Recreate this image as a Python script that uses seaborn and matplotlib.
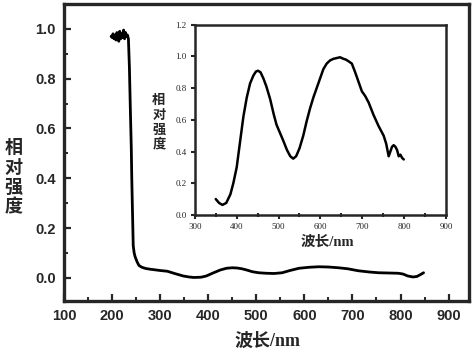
import matplotlib.pyplot as plt
import seaborn as sns
import pandas as pd
from matplotlib.ticker import MultipleLocator

sns.set_style("ticks")
plt.rcParams['font.family'] = ['Liberation Sans', 'Noto Sans CJK SC', 'DejaVu Sans']

# main spectrum
wl = [198, 200, 202, 204, 206, 208, 210, 212, 214, 216, 218, 220, 222, 224, 226, 228, 230, 232, 234,
      236, 238, 240, 241, 243, 244, 246, 248, 252, 256, 262, 270, 280, 300, 315, 330, 348, 360, 370,
      385, 396, 410, 425, 438, 450, 460, 470, 480, 492, 505, 520, 537, 554, 570, 589, 610, 630, 650,
      671, 690, 712, 735, 754, 775, 795, 805, 815, 826, 834, 840, 848]
inten = [0.97, 0.965, 0.98, 0.96, 0.975, 0.955, 0.985, 0.97, 0.95, 0.99, 0.96, 0.98, 0.965, 0.995, 0.96,
         0.985, 0.97, 0.975, 0.96, 0.85, 0.68, 0.52, 0.40, 0.22, 0.13, 0.10, 0.085, 0.065, 0.05, 0.043,
         0.038, 0.035, 0.03, 0.027, 0.018, 0.008, 0.004, 0.002, 0.003, 0.008, 0.02, 0.032, 0.039, 0.041,
         0.04, 0.037, 0.032, 0.025, 0.021, 0.019, 0.018, 0.021, 0.03, 0.039, 0.043, 0.045, 0.044, 0.041,
         0.037, 0.029, 0.024, 0.021, 0.02, 0.019, 0.016, 0.008, 0.004, 0.006, 0.012, 0.021]

# inset spectrum
wl_in = [350, 358, 366, 375, 385, 392, 400, 408, 416, 424, 432, 440, 446, 451, 457, 464, 471, 480,
         488, 495, 503, 511, 520, 528, 535, 542, 550, 559, 567, 575, 583, 591, 599, 607, 615, 623,
         631, 639, 647, 655, 661, 667, 675, 683, 691, 699, 707, 715, 727, 739, 751, 757, 763, 767,
         771, 775, 779, 783, 787, 791, 795, 799]
int_in = [0.10, 0.075, 0.063, 0.075, 0.13, 0.2, 0.3, 0.46, 0.62, 0.74, 0.83, 0.88, 0.905, 0.91, 0.9,
          0.86, 0.81, 0.73, 0.64, 0.57, 0.52, 0.47, 0.41, 0.37, 0.355, 0.37, 0.42, 0.5, 0.59, 0.67,
          0.74, 0.8, 0.86, 0.92, 0.955, 0.975, 0.985, 0.99, 0.995, 0.985, 0.98, 0.97, 0.955, 0.9, 0.84,
          0.78, 0.75, 0.71, 0.63, 0.56, 0.5, 0.45, 0.37, 0.4, 0.43, 0.44, 0.43, 0.41, 0.37, 0.38, 0.36, 0.35]

df = pd.DataFrame({'wl': wl, 'I': inten})
df_in = pd.DataFrame({'wl': wl_in, 'I': int_in})

cjk_bold = dict(family=['Noto Sans CJK SC'], fontweight='bold')

fig = plt.figure(figsize=(4.74, 3.54), dpi=100)
ax = fig.add_axes([0.135, 0.150, 0.854, 0.839])
sns.lineplot(data=df, x='wl', y='I', color='black', lw=2, ax=ax, estimator=None)
ax.set_xlim(100, 942)
ax.set_ylim(-0.092, 1.1)
ax.xaxis.set_major_locator(MultipleLocator(100))
ax.xaxis.set_minor_locator(MultipleLocator(50))
ax.yaxis.set_major_locator(MultipleLocator(0.2))
ax.yaxis.set_minor_locator(MultipleLocator(0.1))
ax.tick_params(which='major', direction='in', length=5, width=1.6, labelsize=10.5, pad=6)
ax.tick_params(which='minor', direction='in', length=3, width=1.4)
for lab in ax.get_xticklabels() + ax.get_yticklabels():
    lab.set_fontweight('bold')
ax.set_yticklabels([f"{v:.1f}" for v in ax.get_yticks()], fontweight='bold')
for s in ax.spines.values():
    s.set_linewidth(2.4)
ax.set_xlabel('')
ax.set_ylabel('')
fig.text(0.565, 0.035, '波长/nm', ha='center', va='center', fontsize=13,
         family=['Liberation Serif', 'Noto Sans CJK SC'], fontweight='bold')
fig.text(0.028, 0.50, '相\n对\n强\n度', ha='center', va='center', fontsize=13,
         linespacing=1.05, **cjk_bold)

# inset
ax2 = fig.add_axes([0.411, 0.393, 0.530, 0.537])
sns.lineplot(data=df_in, x='wl', y='I', color='black', lw=1.8, ax=ax2, estimator=None)
ax2.set_xlim(300, 900)
ax2.set_ylim(0, 1.2)
ax2.xaxis.set_major_locator(MultipleLocator(100))
ax2.xaxis.set_minor_locator(MultipleLocator(50))
ax2.yaxis.set_major_locator(MultipleLocator(0.2))
ax2.tick_params(which='major', direction='out', length=3, width=1.5, labelsize=6.5, pad=3)
ax2.tick_params(which='minor', direction='inout', length=3, width=1.5)
ax2.set_yticklabels([f"{v:.1f}" for v in ax2.get_yticks()])
for lab in ax2.get_xticklabels() + ax2.get_yticklabels():
    lab.set_family('Liberation Serif')
for s in ax2.spines.values():
    s.set_linewidth(1.8)
ax2.set_xlabel('')
ax2.set_ylabel('')
fig.text(0.69, 0.315, '波长/nm', ha='center', va='center', fontsize=10.5,
         family=['Liberation Serif', 'Noto Sans CJK SC'], fontweight='bold')
fig.text(0.335, 0.655, '相\n对\n强\n度', ha='center', va='center', fontsize=9.5,
         linespacing=1.05, **cjk_bold)

fig.savefig('out.png', dpi=100)
